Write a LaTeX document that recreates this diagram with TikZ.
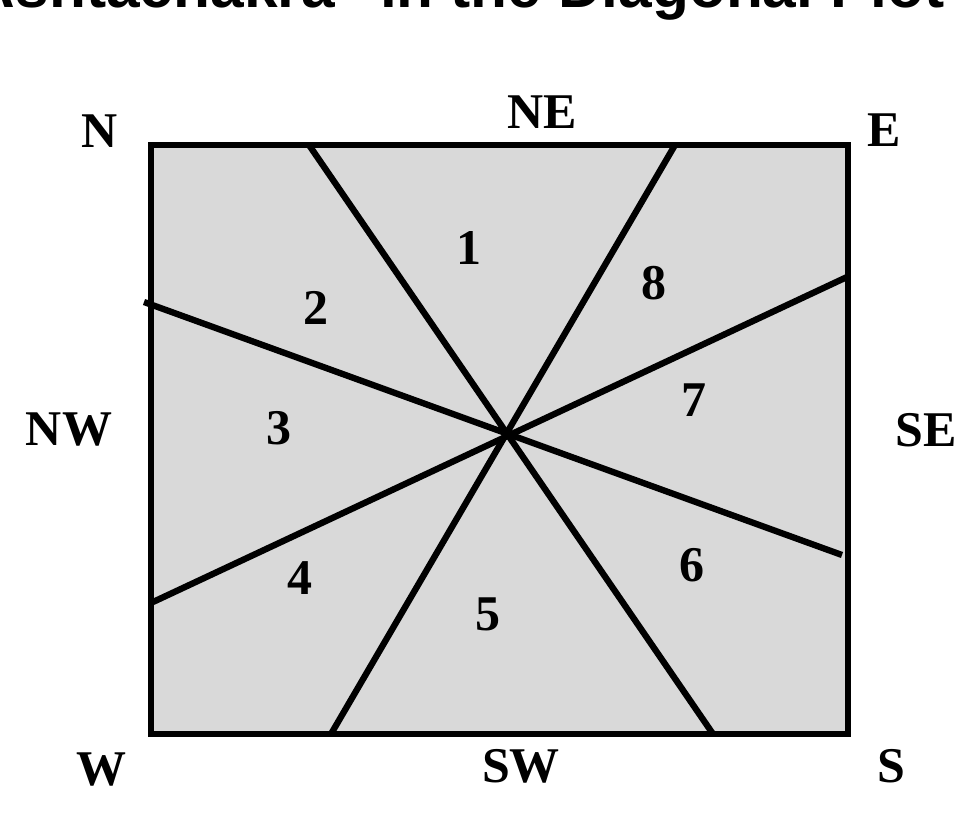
\documentclass[tikz,border=0pt]{standalone}
\usepackage{fontspec}
\setmainfont{Liberation Serif}
\newfontfamily\titlefont{Liberation Sans}
\usepackage{xcolor}
\usepackage{tikz}

\definecolor{plotgray}{RGB}{217,217,217}

\begin{document}
\begin{tikzpicture}[x=0.02cm, y=-0.02cm,
    dirlabel/.style={draw=none, inner sep=0pt, font=\fontsize{28.45}{30}\selectfont\bfseries},
    zonenum/.style={draw=none, inner sep=0pt, font=\fontsize{28.45}{30}\selectfont\bfseries},
    ray/.style={line width=3.6pt}]
             \useasboundingbox (0,0) rectangle (974,832);
             \fill[white] (0,0) rectangle (974,832);

             % title, cut off at the top as in the plot
             \begin{scope}
             \clip (0,0) rectangle (974,832);
             \node[anchor=base west, inner sep=0pt, font=\titlefont\fontsize{34.4}{38}\selectfont\bfseries] (title) at (-57, 7.5) {"Ashtachakra" in the Diagonal Plot};
             \end{scope}

             \fill[plotgray] (151,145) rectangle (848,734);

             \coordinate (top1) at (309,145);
             \coordinate (bot1) at (713,734);
             \coordinate (top2) at (675,145);
             \coordinate (bot2) at (331,734);
             \coordinate (left1) at (144,302);
             \coordinate (right1) at (842,555);
             \coordinate (left2) at (153,602);
             \coordinate (right2) at (847,277);

             \draw[ray] (top1) -- (bot1);
             \draw[ray] (top2) -- (bot2);
             \draw[ray] (left1) -- (right1);
             \draw[ray] (left2) -- (right2);

             \draw[ray] (151,145) rectangle (848,734);

             \node[dirlabel] (n) at (100, 131) {N};
             \node[dirlabel] (ne) at (542, 112) {NE};
             \node[dirlabel] (e) at (884, 130) {E};
             \node[dirlabel] (nw) at (69, 430) {NW};
             \node[dirlabel] (se) at (926, 430) {SE};
             \node[dirlabel] (w) at (101, 770) {W};
             \node[dirlabel] (sw) at (521, 766) {SW};
             \node[dirlabel] (s) at (891, 766) {S};

             \node[zonenum] (z1) at (469, 248) {1};
             \node[zonenum] (z2) at (316, 308) {2};
             \node[zonenum] (z3) at (279, 428) {3};
             \node[zonenum] (z4) at (300, 578) {4};
             \node[zonenum] (z5) at (488, 614) {5};
             \node[zonenum] (z6) at (692, 565) {6};
             \node[zonenum] (z7) at (694, 400) {7};
             \node[zonenum] (z8) at (654, 283) {8};
             \end{tikzpicture}
\end{document}
